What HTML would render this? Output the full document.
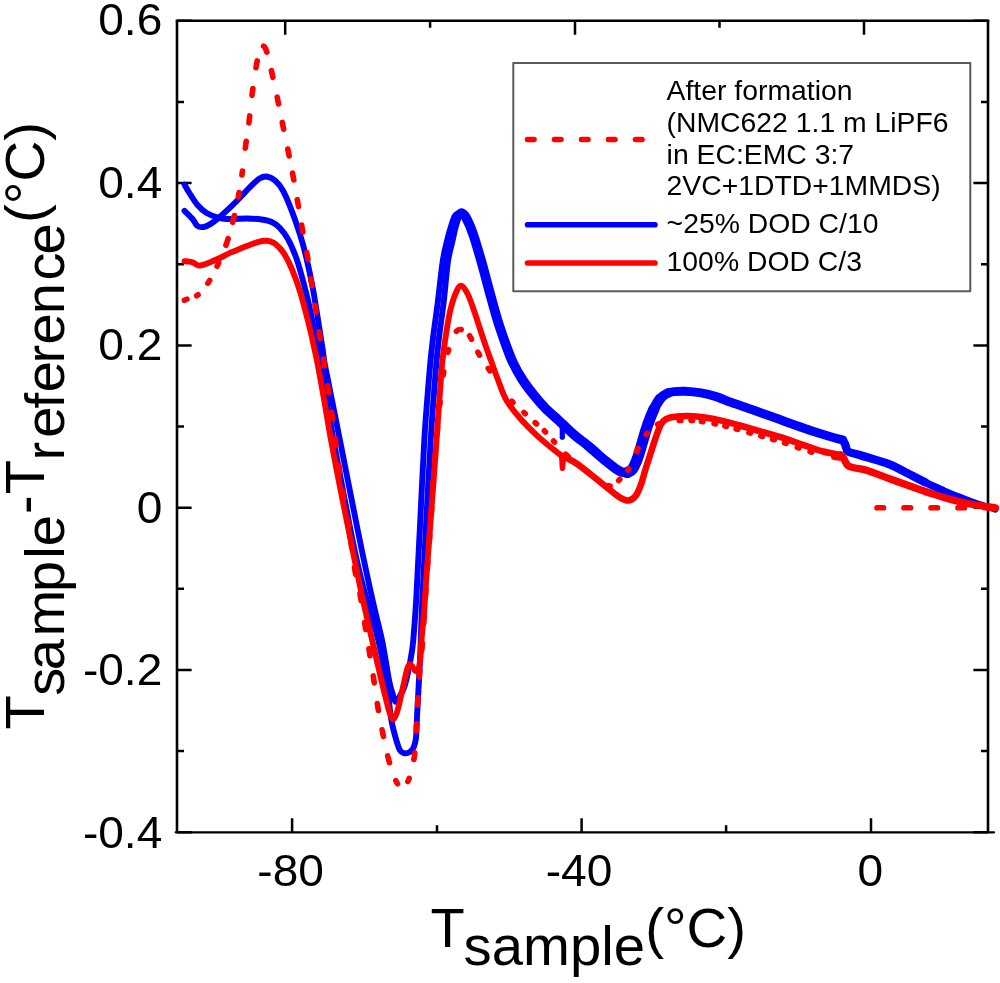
<!DOCTYPE html>
<html lang="en">
<head>
<meta charset="utf-8">
<title>DTA chart</title>
<style>
html,body{margin:0;padding:0;background:#fff;}
body{width:1000px;height:983px;overflow:hidden;font-family:"Liberation Sans",Arial,sans-serif;}
svg{display:block;}
</style>
</head>
<body>
<svg width="1000" height="983" viewBox="0 0 1000 983">
<g stroke="#000" stroke-width="2.6" fill="none" stroke-linecap="butt">
<path d="M175.7 20.7H989.3"/>
<path d="M175.7 832.3H994.0" stroke-width="2.3" stroke-linecap="round"/>
<path d="M177.0 20.7V832.3"/>
<path d="M988.0 20.7V832.3"/>
<path stroke-width="2.5" d="M177.0 20.7h14.6M988.0 20.7h-14.6M177.0 183.0h14.6M988.0 183.0h-14.6M177.0 345.4h14.6M988.0 345.4h-14.6M177.0 507.7h14.6M988.0 507.7h-14.6M177.0 670.0h14.6M988.0 670.0h-14.6M177.0 832.3h14.6M988.0 832.3h-14.6M177.0 101.9h7M988.0 101.9h-7M177.0 264.2h7M988.0 264.2h-7M177.0 426.5h7M988.0 426.5h-7M177.0 588.8h7M988.0 588.8h-7M177.0 751.1h7M988.0 751.1h-7M292.1 832.3v-14M437.0 832.3v-7M581.6 832.3v-14M726.1 832.3v-7M871.0 832.3v-14M285.2 20.7v14M430.1 20.7v7M575.0 20.7v14M719.5 20.7v7M864.0 20.7v14"/>
</g>
<path d="M184.5 210.8C185.8 212.1 190.2 216.3 192.4 218.8C194.6 221.3 195.6 224.6 197.5 226.0C199.4 227.4 201.4 227.3 203.6 227.0C205.8 226.7 208.2 225.4 210.7 223.9C213.2 222.4 215.4 220.7 218.8 217.8C222.2 214.9 227.6 209.8 231.0 206.6C234.4 203.4 235.8 202.0 239.2 198.5C242.6 195.0 248.0 188.9 251.4 185.6C254.8 182.3 257.0 180.0 259.5 178.5C262.0 177.0 264.1 176.2 266.6 176.5C269.2 176.8 272.1 178.0 274.8 180.3C277.5 182.6 280.2 185.8 282.9 190.5C285.6 195.2 288.1 201.4 291.0 208.8C293.9 216.2 297.6 227.0 300.2 235.1C302.8 243.2 304.3 249.0 306.3 257.5C308.3 266.0 310.5 276.2 312.4 286.0C314.3 295.8 315.8 306.0 317.5 316.5C319.2 327.0 321.2 340.4 322.6 349.0C324.0 357.6 322.7 353.2 325.6 368.4C328.5 383.6 334.5 413.1 339.9 440.0C345.2 466.9 352.3 503.3 357.7 530.0C363.1 556.7 368.4 581.7 372.5 600.0C376.6 618.3 379.2 626.7 382.0 640.0C384.8 653.3 387.2 670.8 389.0 680.0C390.8 689.2 391.9 691.4 393.0 695.0C394.1 698.6 394.5 701.6 395.7 701.8C396.9 702.0 398.5 698.6 400.0 696.0C401.5 693.4 403.2 690.5 404.6 686.0C406.1 681.5 407.6 674.2 408.7 669.3C409.8 664.3 410.3 661.2 411.1 656.3C411.9 651.4 412.5 649.4 413.3 640.0C414.1 630.6 415.1 618.3 416.2 600.0C417.3 581.7 418.4 556.7 419.8 530.0C421.2 503.3 422.8 465.0 424.3 440.0C425.8 415.0 427.5 396.2 428.8 380.0C430.1 363.8 430.9 355.8 432.4 342.8C433.9 329.8 436.1 315.6 437.8 302.0C439.5 288.4 441.2 271.6 442.7 261.4C444.2 251.2 445.8 246.2 447.0 241.0C448.2 235.8 448.5 234.6 449.8 230.5C451.1 226.4 453.0 219.2 454.6 216.2C456.2 213.2 458.7 213.0 459.5 212.3" fill="none" stroke="#0000ff" stroke-width="5.9" stroke-linecap="round" stroke-linejoin="round" />
<path d="M184.5 184.6C185.4 186.2 187.8 190.6 190.0 194.0C192.2 197.4 194.7 201.8 197.5 205.0C200.3 208.2 203.0 210.9 206.6 213.0C210.2 215.1 214.7 216.8 218.8 217.8C222.9 218.8 226.2 218.9 231.0 219.0C235.8 219.1 242.2 218.4 247.3 218.5C252.4 218.6 257.5 218.9 261.6 219.5C265.7 220.1 268.6 220.6 271.7 222.0C274.8 223.4 277.2 225.1 279.9 228.0C282.6 230.9 285.3 234.3 288.0 239.2C290.7 244.1 293.7 251.1 296.1 257.5C298.5 263.9 300.1 270.4 302.2 277.8C304.2 285.2 306.3 293.0 308.4 302.2C310.4 311.4 312.5 321.8 314.5 332.8C316.5 343.8 317.4 350.5 320.6 368.4C323.8 386.3 328.5 413.1 333.5 440.0C338.5 466.9 346.2 508.3 350.5 530.0C354.8 551.7 356.3 558.3 359.0 570.0C361.7 581.7 363.6 588.3 366.8 600.0C370.0 611.7 375.1 626.7 378.3 640.0C381.5 653.3 384.2 670.0 386.0 680.0C387.8 690.0 387.9 693.1 388.8 700.0C389.7 706.9 390.3 714.6 391.6 721.4C392.9 728.2 395.1 736.1 396.5 740.9C397.9 745.6 398.6 747.9 399.8 749.9C401.0 751.9 402.2 752.7 403.8 753.1C405.4 753.5 407.9 753.2 409.5 752.3C411.1 751.3 412.5 749.8 413.6 747.4C414.7 745.0 415.4 743.4 416.0 737.7C416.6 732.0 416.8 721.1 417.2 713.0C417.6 704.9 418.1 697.2 418.5 689.0C418.9 680.8 419.5 670.8 419.8 664.0C420.1 657.2 420.1 658.7 420.5 648.0C420.9 637.3 421.4 619.7 422.3 600.0C423.2 580.3 424.4 556.7 425.8 530.0C427.2 503.3 429.2 465.0 430.7 440.0C432.2 415.0 433.7 396.2 435.0 380.0C436.3 363.8 436.9 355.8 438.4 342.8C439.8 329.8 442.1 315.6 443.7 302.0C445.3 288.4 446.5 271.6 448.0 261.4C449.5 251.2 451.2 246.8 452.5 241.0C453.8 235.2 454.7 230.5 455.8 226.5C456.9 222.5 457.9 219.3 459.0 217.0C460.1 214.7 461.9 213.5 462.5 212.8" fill="none" stroke="#0000ff" stroke-width="5.9" stroke-linecap="round" stroke-linejoin="round" />
<path d="M461.5 213.2C462.2 213.8 463.7 213.2 465.6 216.8C467.6 220.4 470.5 226.7 473.2 234.5C475.9 242.3 479.1 253.5 481.9 263.4C484.7 273.3 487.4 284.2 490.1 293.9C492.8 303.6 495.2 312.7 497.9 321.4C500.6 330.1 503.8 339.1 506.3 346.0C508.8 352.9 510.4 357.3 513.0 362.8C515.6 368.3 518.5 373.6 522.0 379.0C525.5 384.4 529.9 390.2 533.8 395.1C537.7 400.0 541.6 404.5 545.2 408.2C548.8 411.9 552.4 414.7 555.3 417.4C558.2 420.1 559.2 421.1 562.6 424.2C566.0 427.3 572.0 433.0 575.7 436.2C579.4 439.4 581.8 440.7 585.0 443.3C588.2 445.9 591.5 448.8 595.0 451.8C598.5 454.8 602.8 458.6 606.1 461.3C609.4 464.0 612.4 466.4 615.0 468.2C617.6 470.0 619.5 471.3 621.5 472.0C623.5 472.7 626.3 472.5 627.3 472.6" fill="none" stroke="#0000ff" stroke-width="9.7" stroke-linecap="round" stroke-linejoin="round" />
<path d="M627.3 472.6C628.2 472.0 631.0 470.9 632.5 469.0C634.0 467.1 635.2 464.1 636.5 461.0C637.8 457.9 638.9 454.1 640.0 450.5C641.1 446.9 642.2 442.9 643.3 439.1C644.4 435.4 645.4 431.6 646.6 428.0C647.8 424.4 649.1 420.9 650.3 417.7C651.5 414.5 653.4 410.4 654.0 409.0" fill="none" stroke="#0000ff" stroke-width="11.2" stroke-linecap="round" stroke-linejoin="round" />
<path d="M654.0 409.0C654.5 408.1 655.9 405.0 656.9 403.3C657.9 401.6 659.5 399.6 660.0 398.8" fill="none" stroke="#0000ff" stroke-width="10.4" stroke-linecap="round" stroke-linejoin="round" />
<path d="M660.0 398.8C660.6 398.3 662.2 396.6 663.5 395.6C664.8 394.6 667.2 393.4 668.0 393.0" fill="none" stroke="#0000ff" stroke-width="9.6" stroke-linecap="round" stroke-linejoin="round" />
<path d="M668.0 393.0C669.0 392.8 671.2 391.9 674.0 391.6C676.8 391.3 680.4 391.0 684.9 391.2C689.4 391.4 695.9 392.0 701.0 392.9C706.1 393.8 710.2 394.8 715.3 396.4C720.4 398.0 725.5 400.4 731.6 402.6C737.7 404.8 745.1 407.2 751.9 409.6C758.7 412.0 765.4 414.4 772.2 416.8C779.0 419.2 785.8 421.9 792.6 424.3C799.4 426.7 805.8 429.0 812.9 431.3C820.0 433.6 830.0 436.6 835.0 438.0C840.0 439.4 841.4 439.7 842.7 440.0" fill="none" stroke="#0000ff" stroke-width="9.0" stroke-linecap="round" stroke-linejoin="round" />
<path d="M562.3 425.0L562.3 437.2" fill="none" stroke="#0000ff" stroke-width="5.2" stroke-linecap="round" stroke-linejoin="round" />
<path d="M842.7 440.0C843.1 440.7 844.1 442.1 845.0 444.0C845.9 445.9 846.0 449.5 847.8 451.2C849.6 452.9 852.8 453.0 856.0 454.0C859.2 455.0 861.5 455.6 867.1 457.3C872.7 459.0 882.0 461.3 889.5 464.4C897.0 467.4 906.0 472.6 911.9 475.6C917.8 478.6 922.8 481.1 925.0 482.2" fill="none" stroke="#0000ff" stroke-width="8.4" stroke-linecap="round" stroke-linejoin="round" />
<path d="M925.0 482.2C926.2 482.8 929.4 484.5 932.2 485.8C935.0 487.1 940.4 489.3 942.0 490.0" fill="none" stroke="#0000ff" stroke-width="7.6" stroke-linecap="round" stroke-linejoin="round" />
<path d="M942.0 490.0C943.8 490.7 947.5 492.3 952.6 494.3C957.8 496.3 965.8 499.7 972.9 502.2C980.0 504.7 991.6 508.1 995.3 509.3" fill="none" stroke="#0000ff" stroke-width="6.8" stroke-linecap="round" stroke-linejoin="round" />
<path d="M184.3 300.2C184.8 300.0 186.0 299.6 187.0 299.2C188.0 298.8 188.4 298.6 190.3 297.8C192.2 297.0 195.4 297.1 198.5 294.5C201.6 291.9 205.5 286.9 208.7 281.9C211.9 276.9 214.8 271.2 217.8 264.6C220.9 258.0 224.4 249.8 227.0 242.2C229.6 234.6 231.5 227.0 233.5 219.0C235.5 211.0 237.4 201.7 238.8 194.0C240.2 186.3 241.0 181.2 242.2 173.0C243.3 164.8 244.5 153.9 245.7 145.0C246.9 136.1 248.2 128.3 249.3 119.5C250.4 110.7 251.2 101.2 252.4 92.1C253.6 82.9 255.2 71.5 256.5 64.6C257.8 57.7 258.9 53.6 260.0 50.5C261.1 47.4 261.9 45.9 263.0 46.0C264.1 46.1 265.1 46.8 266.6 51.4C268.1 56.0 270.2 65.6 272.1 73.7C274.0 81.8 276.0 91.6 277.8 100.2C279.6 108.8 281.1 116.9 282.9 125.6C284.7 134.2 286.7 143.6 288.4 152.1C290.1 160.6 291.5 167.9 293.1 176.3C294.7 184.7 296.3 194.0 297.8 202.7C299.3 211.3 300.6 219.4 302.2 228.2C303.8 237.0 305.8 246.6 307.3 255.5C308.8 264.4 310.0 273.1 311.4 281.9C312.8 290.7 314.1 299.5 315.5 308.3C316.9 317.1 318.1 325.9 319.5 334.8C320.9 343.8 322.6 353.0 324.0 362.0C325.4 371.0 326.7 379.8 328.0 388.7C329.3 397.6 330.7 406.3 332.0 415.1C333.3 423.9 334.4 432.8 335.6 441.6C336.8 450.4 337.9 459.2 339.2 468.0C340.5 476.8 341.7 485.3 343.2 494.5C344.7 503.7 346.9 514.5 348.3 523.0C349.7 531.5 350.3 537.3 351.4 545.3C352.5 553.2 353.5 562.1 355.0 570.7C356.5 579.3 358.8 587.9 360.5 597.0C362.2 606.1 363.6 616.4 365.1 625.6C366.6 634.8 368.0 643.1 369.4 652.0C370.8 660.9 372.3 670.0 373.7 679.1C375.1 688.2 376.3 697.8 377.8 706.7C379.3 715.7 380.9 724.1 382.7 732.8C384.5 741.5 386.4 751.2 388.4 758.8C390.4 766.4 393.1 773.8 394.9 778.3C396.6 782.8 397.6 783.9 398.9 785.5C400.2 787.1 401.3 788.4 402.5 788.0C403.7 787.6 405.1 785.1 406.3 783.4C407.5 781.6 408.1 782.0 409.5 777.5C410.9 773.0 413.2 764.7 414.4 756.4C415.5 748.1 415.8 737.0 416.4 727.9C416.9 718.8 417.2 710.8 417.7 701.8C418.2 692.8 418.8 684.2 419.6 674.2C420.4 664.2 421.7 652.4 422.5 641.9C423.3 631.4 423.8 621.6 424.5 611.4C425.2 601.2 425.8 591.1 426.5 580.9C427.2 570.7 427.9 560.1 428.7 550.0C429.4 539.9 430.2 531.7 431.0 520.0C431.8 508.3 432.6 493.3 433.5 480.0C434.4 466.7 435.4 452.8 436.5 440.0C437.6 427.2 438.9 413.6 440.0 403.0C441.1 392.4 441.6 385.3 443.0 376.5C444.4 367.7 446.5 357.2 448.5 350.0C450.5 342.8 453.0 336.9 454.9 333.5C456.8 330.1 458.0 329.6 460.0 329.5C462.0 329.4 465.2 331.1 467.1 332.6C469.0 334.1 469.3 335.3 471.2 338.7C473.1 342.1 475.3 347.9 478.3 353.0C481.3 358.1 485.4 364.0 489.0 369.5C492.6 375.0 496.2 380.7 500.0 386.0C503.8 391.3 507.7 396.8 511.7 401.2C515.7 405.6 520.0 408.8 523.9 412.4C527.8 416.0 531.7 419.6 535.1 422.6C538.5 425.7 541.2 427.6 544.3 430.7C547.3 433.8 549.7 436.8 553.4 440.9C557.1 445.0 562.9 451.6 566.6 455.1C570.3 458.7 571.5 458.8 575.8 462.2C580.0 465.6 587.6 472.0 592.1 475.5C596.6 479.0 599.7 481.2 603.0 483.0C606.3 484.8 609.4 486.4 612.0 486.0C614.6 485.6 615.9 483.2 618.5 480.6C621.1 478.0 624.7 475.3 627.7 470.4C630.8 465.5 633.8 457.0 636.8 451.1C639.8 445.2 642.6 439.2 646.0 434.8C649.4 430.4 654.1 426.6 657.2 424.6C660.3 422.6 661.5 423.6 664.4 423.0C667.3 422.4 670.5 421.2 674.6 420.8C678.7 420.4 683.7 420.1 688.8 420.3C693.9 420.5 699.7 421.2 705.1 422.0C710.5 422.8 715.3 423.8 721.4 425.2C727.5 426.6 734.9 428.6 741.7 430.5C748.5 432.4 755.3 434.4 762.1 436.4C768.9 438.3 775.6 440.0 782.4 442.2C789.2 444.4 796.0 447.1 802.8 449.3C809.6 451.5 816.8 454.1 823.1 455.5C829.4 456.9 837.8 457.6 840.7 458.0" fill="none" stroke="#ff0000" stroke-width="5.6" stroke-linecap="round" stroke-linejoin="round" stroke-dasharray="0.0 1.1 1.7 10.4 1.7 15.2 3.4 16.0 3.7 18.9 7.0 17.1 7.0 19.0 4.2 18.0 4.2 22.6 7.0 18.8 7.0 20.6 7.0 20.8 7.0 17.1 7.0 18.9 7.0 20.1 7.0 18.9 7.0 20.1 7.0 17.7 7.0 19.8 7.0 18.9 7.0 20.8 7.0 19.7 7.0 19.7 7.0 19.8 7.0 20.6 7.0 20.0 7.0 19.7 7.0 19.7 7.0 19.6 7.0 19.8 7.0 23.3 4.3 18.2 4.3 20.0 7.0 19.9 7.0 22.0 7.0 19.7 7.0 20.4 7.0 20.9 7.0 19.6 7.0 19.6 7.0 19.1 3.6 15.3 3.6 19.4 7.0 21.6 7.0 19.1 7.0 20.7 7.0 20.1 7.0 20.1 7.0 20.1 7.0 20.1 7.0 20.1 7.0 20.1 7.0 20.1 7.0 20.1 7.0 20.1 7.0 22.1 3.0 27.0 3.5 19.6 3.0 20.0 5.5 10.7 4.0 14.3 3.5 15.6 3.0 37.5 1.7 14.9 1.7 13.4 1.7 10.6 1.7 12.0 1.7 16.1 3.6 20.9 7.0 21.8 1.7 10.8 1.7 12.1 1.7 18.7 3.6 16.1 1.7 13.5 1.7 20.6 1.7 10.1 1.7 8.6 1.7 11.2 1.7 9.5 1.7 9.8 1.7 11.6 1.7 10.7 1.7 10.6 1.7 10.7 1.7 11.8 1.7 11.8 1.7 22.7 7.0 51.3"/>
<path d="M877.0 507.8L993.0 507.8" fill="none" stroke="#ff0000" stroke-width="5.6" stroke-linecap="round" stroke-linejoin="round" stroke-dasharray="6.5 20.5"/>
<path d="M184.5 261.3C185.1 261.3 186.7 261.3 188.0 261.5C189.3 261.7 191.1 261.8 192.4 262.3C193.7 262.8 194.8 263.8 196.0 264.3C197.2 264.9 198.0 265.6 199.5 265.6C201.0 265.6 203.1 264.9 205.0 264.3C206.9 263.7 208.0 263.1 210.7 262.0C213.3 260.9 217.5 259.1 220.9 257.5C224.3 255.9 227.6 253.9 231.0 252.4C234.4 250.9 237.8 249.7 241.2 248.3C244.6 247.0 248.3 245.4 251.4 244.3C254.5 243.2 257.2 242.2 259.5 241.6C261.8 241.0 263.3 240.9 265.0 240.8C266.7 240.7 267.9 240.6 269.7 241.2C271.5 241.8 273.4 242.3 275.8 244.3C278.2 246.3 281.2 249.2 283.9 253.4C286.6 257.6 289.4 263.2 292.1 269.7C294.8 276.1 297.5 283.3 300.2 292.1C302.9 300.9 306.0 313.1 308.4 322.6C310.8 332.1 312.8 341.4 314.5 349.0C316.2 356.6 316.8 359.1 318.5 368.4C320.2 377.7 322.9 393.1 325.0 405.0C327.1 416.9 328.5 426.3 331.0 440.0C333.5 453.7 337.0 471.8 340.0 487.0C343.0 502.2 346.3 518.5 348.8 531.0C351.3 543.5 353.0 552.0 355.0 562.0C357.0 572.0 359.0 581.7 361.0 591.0C363.0 600.3 364.9 608.8 367.0 618.0C369.1 627.2 371.0 635.3 373.5 646.0C376.0 656.7 379.3 671.6 381.8 682.0C384.3 692.4 386.9 702.7 388.4 708.4C389.9 714.1 390.2 714.1 391.0 716.0C391.8 717.9 392.2 719.5 393.0 719.5C393.8 719.5 394.6 717.9 395.5 716.0C396.4 714.1 396.9 713.2 398.1 708.4C399.4 703.6 401.5 693.7 403.0 687.2C404.5 680.7 405.9 673.1 407.1 669.3C408.3 665.5 409.0 664.5 410.0 664.2C411.0 663.9 412.1 666.4 413.0 667.5C413.9 668.6 414.6 670.7 415.5 671.0C416.4 671.3 417.5 671.3 418.3 669.5C419.1 667.7 419.7 664.9 420.2 660.0C420.7 655.1 420.9 648.1 421.5 640.0C422.1 631.9 423.3 621.2 424.1 611.4C424.9 601.5 425.4 591.1 426.1 580.9C426.8 570.7 427.6 561.0 428.4 550.0C429.2 539.0 429.8 531.4 431.0 515.0C432.2 498.6 434.0 475.3 435.7 451.7C437.4 428.1 440.0 390.1 441.3 373.3C442.6 356.5 442.8 358.0 443.7 350.9C444.6 343.8 445.5 337.4 446.6 330.6C447.7 323.8 448.8 316.3 450.3 310.2C451.8 304.1 453.6 298.1 455.4 294.0C457.2 289.9 458.9 285.8 461.0 285.8C463.1 285.8 465.6 289.9 467.7 294.0C469.8 298.1 471.9 304.4 473.9 310.2C475.9 315.9 477.9 322.4 479.9 328.5C481.9 334.6 484.0 341.0 486.0 346.8C488.0 352.6 489.9 357.7 491.9 363.1C493.8 368.5 495.2 372.8 497.7 379.0C500.1 385.2 502.7 393.9 506.6 400.6C510.5 407.3 515.8 413.5 520.9 419.3C526.0 425.1 532.0 430.9 537.1 435.6C542.2 440.4 547.5 444.6 551.4 447.8C555.3 451.0 559.1 453.8 560.6 455.0" fill="none" stroke="#ff0000" stroke-width="5.9" stroke-linecap="round" stroke-linejoin="round" />
<path d="M561.6 455.0L562.4 468.4L563.6 456.5" fill="none" stroke="#ff0000" stroke-width="5.4" stroke-linecap="round" stroke-linejoin="round" />
<path d="M563.6 456.5C565.6 457.6 571.0 459.8 575.8 463.0C580.5 466.2 586.7 471.2 592.1 475.5C597.5 479.8 603.6 485.0 608.4 488.7C613.1 492.4 617.2 495.9 620.6 497.9C624.0 499.9 626.2 500.9 628.7 500.5C631.2 500.1 633.8 498.5 635.8 495.8C637.8 493.1 639.4 488.8 641.0 484.5C642.6 480.2 643.5 475.7 645.2 470.2C646.9 464.7 649.5 456.7 651.2 451.5C652.9 446.3 653.6 443.5 655.2 439.1C656.8 434.7 658.8 428.2 660.6 424.9C662.4 421.6 663.7 420.5 666.0 419.2C668.3 417.9 670.8 417.3 674.6 416.8C678.4 416.3 683.7 415.9 688.8 416.0C693.9 416.1 699.7 416.7 705.1 417.5C710.5 418.3 715.3 419.3 721.4 420.7C727.5 422.1 734.9 424.1 741.7 426.0C748.5 427.9 755.3 429.9 762.1 431.9C768.9 433.8 775.6 435.5 782.4 437.7C789.2 439.9 796.0 442.5 802.8 444.8C809.6 447.1 816.8 449.8 823.1 451.5C829.4 453.2 837.8 454.3 840.7 454.9" fill="none" stroke="#ff0000" stroke-width="6.5" stroke-linecap="round" stroke-linejoin="round" />
<path d="M840.7 454.9C841.1 455.2 841.8 455.2 843.0 457.0C844.2 458.8 845.8 463.7 847.8 465.5C849.8 467.3 851.8 467.2 855.0 468.0C858.2 468.8 861.4 468.7 867.1 470.5C872.9 472.3 882.0 476.0 889.5 478.7C897.0 481.4 904.8 484.3 911.9 486.8C919.0 489.3 925.4 491.7 932.2 493.9C939.0 496.1 945.8 498.2 952.6 500.0C959.4 501.8 965.8 503.2 972.9 504.5C980.0 505.8 991.6 507.2 995.3 507.8" fill="none" stroke="#ff0000" stroke-width="7.3" stroke-linecap="round" stroke-linejoin="round" />
<rect x="513.3" y="62.9" width="457" height="228.4" fill="#fff" stroke="#5a5a5a" stroke-width="2.0" stroke-linejoin="round"/>
<path d="M527.5 139.5H643" fill="none" stroke="#ff0000" stroke-width="5.6" stroke-linecap="round" stroke-linejoin="round" stroke-dasharray="6.5 20.5"/>
<path d="M527.5 224.8H655" fill="none" stroke="#0000ff" stroke-width="5.6" stroke-linecap="round" stroke-linejoin="round" />
<path d="M527.5 263H655" fill="none" stroke="#ff0000" stroke-width="5.6" stroke-linecap="round" stroke-linejoin="round" />
<g font-family="'Liberation Sans', Arial, sans-serif" fill="#000" font-size="28.35" style="font-kerning:none">
<text x="666.6" y="100.1">After formation</text>
<text x="666.6" y="131.9">(NMC622 1.1 m LiPF6</text>
<text x="666.6" y="163.7">in EC:EMC 3:7</text>
<text x="666.6" y="195.2">2VC+1DTD+1MMDS)</text>
<text x="666.6" y="233.4">~25% DOD C/10</text>
<text x="666.6" y="271.4">100% DOD C/3</text>
</g>
<g font-family="'Liberation Sans', Arial, sans-serif" fill="#000" font-size="44.3" style="font-kerning:none">
<text transform="translate(162.3 35.0) scale(1.04 1)" text-anchor="end">0.6</text>
<text transform="translate(162.3 198.1) scale(1.04 1)" text-anchor="end">0.4</text>
<text transform="translate(162.3 360.3) scale(1.04 1)" text-anchor="end">0.2</text>
<text transform="translate(162.3 523.3) scale(1.04 1)" text-anchor="end">0</text>
<text transform="translate(162.3 684.8) scale(1.04 1)" text-anchor="end">-0.2</text>
<text transform="translate(162.3 847.8) scale(1.04 1)" text-anchor="end">-0.4</text>
<text transform="translate(290.6 886.3) scale(1.04 1)" text-anchor="middle">-80</text>
<text transform="translate(579.0 886.3) scale(1.04 1)" text-anchor="middle">-40</text>
<text transform="translate(870.3 886.3) scale(1.04 1)" text-anchor="middle">0</text>
</g>
<g font-family="'Liberation Sans', Arial, sans-serif" fill="#000" font-size="56" style="font-kerning:none">
<text x="430.6" y="947.3">T</text>
<text x="463.6" y="965.3" textLength="181.5" lengthAdjust="spacingAndGlyphs">sample</text>
<text x="645.2" y="947.3" textLength="101.0" lengthAdjust="spacingAndGlyphs">(°C)</text>
<g transform="translate(44 730) rotate(-90)">
<text x="0.5" y="0.0">T</text>
<text x="34.3" y="20.0" dx="0 -2.5 2.5 -2 2 0">sample</text>
<text x="216.0" y="0.0">-</text>
<text x="235.7" y="0.0">T</text>
<text x="269.5" y="20.0" dx="0 4 -1.8 0.8 -2.5 0.3 -0.8 2.5 -2">reference</text>
<text x="507.0" y="0.0" textLength="101.0" lengthAdjust="spacingAndGlyphs">(°C)</text>
</g>
</g>
</svg>
</body>
</html>
